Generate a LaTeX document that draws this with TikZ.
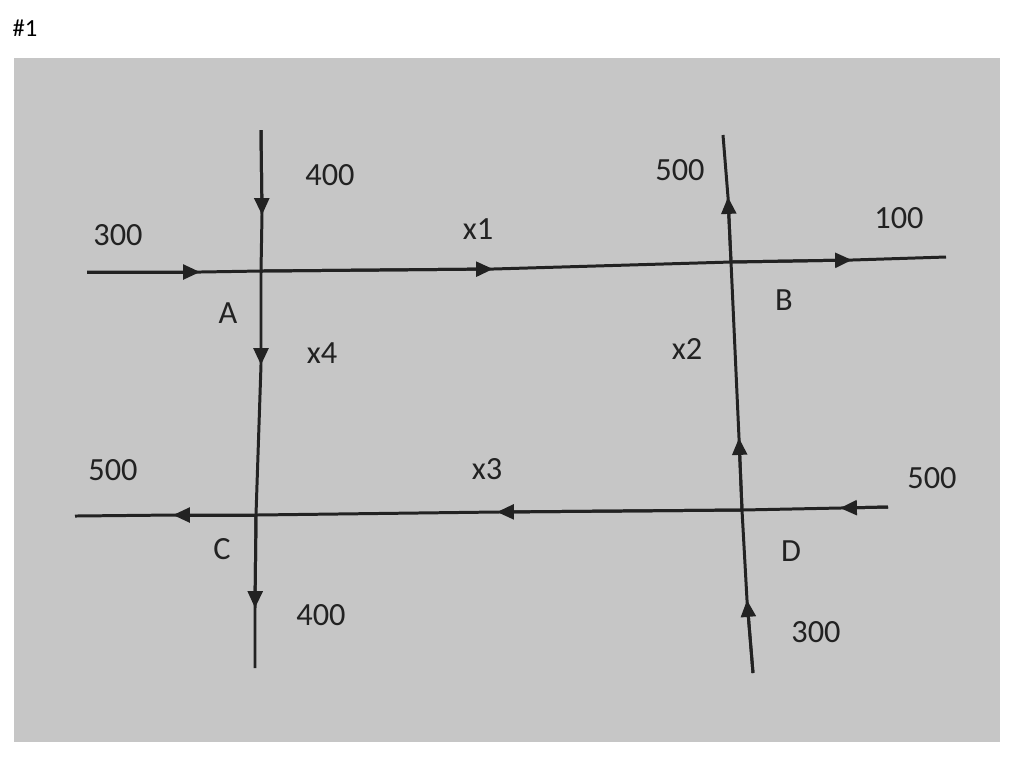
\documentclass[tikz,border=0pt]{standalone}
\usepackage{fontspec}
\setmainfont{Carlito}
\usetikzlibrary{arrows.meta}

\definecolor{paper}{RGB}{198,198,198}
\definecolor{ink}{RGB}{34,34,34}

\tikzset{
  road/.style={draw=ink, line width=0.85pt},
  flow/.style={road, -{Triangle[length=4.8pt,width=4.2pt]}},
  num/.style={font=\fontsize{9.2}{10}\selectfont, text=ink, inner sep=0pt},
}

\begin{document}
\begin{tikzpicture}[x=0.01cm,y=-0.01cm]
        \useasboundingbox (0,0) rectangle (1024,759);
        \node[font=\fontsize{7}{8}\selectfont, inner sep=0pt] (title) at (25,28) {\#1};
        \fill[paper] (14,58) rectangle (1000,742);

        \coordinate (A) at (261,271);
        \coordinate (B) at (731,262);
        \coordinate (C) at (256,515);
        \coordinate (D) at (742,510);

        \coordinate (in300) at (87,272);
        \coordinate (out100) at (946,257);
        \coordinate (in400) at (261,130);
        \coordinate (out400) at (255,668);
        \coordinate (in300b) at (753,673);
        \coordinate (out500) at (723,135);
        \coordinate (in500) at (888,507);
        \coordinate (out500b) at (75,516);

        \coordinate (ta) at (200,272);
        \coordinate (tb) at (493,269);
        \coordinate (tc) at (852,260);
        \coordinate (td) at (262,215);
        \coordinate (te) at (261,365);
        \coordinate (tf) at (255,608);
        \coordinate (tg) at (747,600);
        \coordinate (th) at (739,438);
        \coordinate (ti) at (728,197);
        \coordinate (tj) at (840,508);
        \coordinate (tk) at (497,512);
        \coordinate (tl) at (173,515);

        \draw[road, line join=round] (in300) -- (ta) -- (A) -- (tb) -- (B) -- (tc) -- (out100);
        \draw[road, line join=round] (in400) -- (td) -- (A) -- (te) -- (C) -- (tf) -- (out400);
        \draw[road, line join=round] (in300b) -- (tg) -- (D) -- (th) -- (B) -- (ti) -- (out500);
        \draw[road, line join=round] (in500) -- (tj) -- (D) -- (tk) -- (C) -- (tl) -- (out500b);

        \draw
        (in300) edge[flow] (ta)
        (A) edge[flow] (tb)
        (B) edge[flow] (tc)
        (in400) edge[flow] (td)
        (A) edge[flow] (te)
        (C) edge[flow] (tf)
        (in300b) edge[flow] (tg)
        (D) edge[flow] (th)
        (B) edge[flow] (ti)
        (in500) edge[flow] (tj)
        (D) edge[flow] (tk)
        (C) edge[flow] (tl);

        \node[num] (n400a) at (330,175) {400};
        \node[num] (n300a) at (118,235) {300};
        \node[num] (nx1) at (478,229) {x1};
        \node[num] (n500a) at (680,170) {500};
        \node[num] (n100) at (899,218) {100};
        \node[num] (labA) at (228,313) {A};
        \node[num] (labB) at (784,300) {B};
        \node[num] (nx4) at (322,353) {x4};
        \node[num] (nx2) at (687,349) {x2};
        \node[num] (n500b) at (113,470) {500};
        \node[num] (nx3) at (487,469) {x3};
        \node[num] (n500c) at (932,478) {500};
        \node[num] (labC) at (222,549) {C};
        \node[num] (labD) at (791,551) {D};
        \node[num] (n400b) at (321,615) {400};
        \node[num] (n300b) at (816,632) {300};
      \end{tikzpicture}
\end{document}
